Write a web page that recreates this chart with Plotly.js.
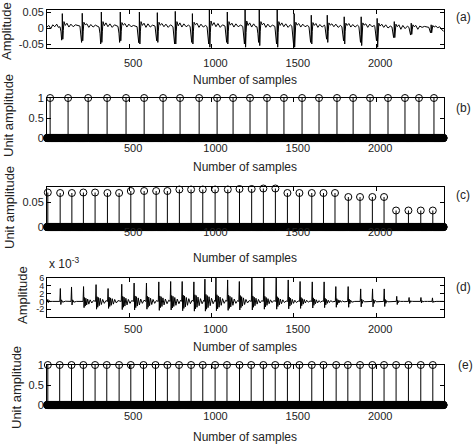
<!DOCTYPE html>
<html><head><meta charset="utf-8">
<script src="https://cdn.plot.ly/plotly-3.0.1.min.js"></script>
<style>html,body{margin:0;padding:0;background:#fff}#chart{width:474px;height:444px}</style>
</head><body><div id="chart"></div>
<script>
// ---------------- data ----------------
const nSamples = 2410;
const sampleTicks = [500, 1000, 1500, 2000];
const sampleTickLabels = ['500', '1000', '1500', '2000'];

// (a) ECG signal: sample index / amplitude
const ecgX = [
  1,12,24,36,48,60,70,
  80,86,90,93,94,97,100,104,112,122,134,146,160,174,
  201,207,211,214,215,218,221,225,233,243,255,267,281,295,
  317,323,327,330,331,334,337,341,349,359,371,383,397,411,
  432,438,442,445,446,449,452,456,464,474,486,498,512,526,
  548,554,558,561,562,565,568,572,580,590,602,614,628,642,
  657,663,667,670,671,674,677,681,689,699,711,723,737,751,
  766,772,776,779,780,783,786,790,798,808,820,832,846,860,
  870,876,880,883,884,887,890,894,902,912,924,936,950,964,
  973,979,983,986,987,990,993,997,1005,1015,1027,1039,1053,1067,
  1082,1088,1092,1095,1096,1099,1102,1106,1114,1124,1136,1148,1162,1176,
  1190,1196,1200,1203,1204,1207,1210,1214,1222,1232,1244,1256,1268,
  1276,1282,1286,1289,1290,1293,1296,1300,1308,1318,1330,1342,1356,1370,
  1385,1391,1395,1398,1399,1402,1405,1409,1417,1427,1439,1451,1465,1479,
  1488,1494,1498,1501,1502,1505,1508,1512,1520,1530,1542,1554,1568,1582,
  1592,1598,1602,1605,1606,1609,1612,1616,1624,1634,1646,1658,1672,1686,
  1689,1695,1699,1702,1703,1706,1709,1713,1721,1731,1743,1755,1769,1783,
  1792,1798,1802,1805,1806,1809,1812,1816,1824,1834,1846,1858,1872,1886,
  1895,1901,1905,1908,1909,1912,1915,1919,1927,1937,1949,1961,1975,1989,
  1992,1998,2002,2005,2006,2009,2012,2016,2024,2034,2046,2058,2072,2086,
  2096,2102,2106,2109,2110,2113,2116,2120,2128,2138,2150,2162,2176,2190,
  2199,2205,2209,2212,2213,2216,2219,2223,2231,2241,2253,2265,2279,2293,
  2320,2326,2330,2333,2334,2337,2340,2344,2352,2362,2374,2386,2400,2410
];
const ecgY = [
  0.003,0.008,-0.002,0.01,0.004,0.012,0.002,
  0.004,-0.012,-0.038,-0.02,0.045,-0.035,-0.008,0.02,0.008,0.015,0.003,0.012,0.004,0.01,
  0.006,-0.015,-0.045,-0.02,0.046,-0.04,-0.01,0.018,0.01,0.013,0.002,0.011,0.003,0.009,
  0.003,-0.018,-0.05,-0.025,0.05,-0.045,-0.012,0.02,0.007,0.016,0.004,0.013,0.002,0.01,
  0.005,-0.016,-0.045,-0.02,0.05,-0.04,-0.01,0.017,0.009,0.014,0.003,0.012,0.004,0.008,
  0.004,-0.017,-0.046,-0.022,0.05,-0.05,-0.012,0.02,0.008,0.015,0.002,0.013,0.003,0.009,
  0.006,-0.014,-0.04,-0.018,0.048,-0.045,-0.01,0.018,0.009,0.014,0.004,0.012,0.002,0.01,
  0.004,-0.02,-0.05,-0.025,0.052,-0.05,-0.012,0.02,0.007,0.016,0.003,0.013,0.004,0.009,
  0.005,-0.018,-0.045,-0.02,0.045,-0.05,-0.01,0.018,0.01,0.015,0.002,0.012,0.003,0.008,
  0.004,-0.02,-0.05,-0.025,0.058,-0.06,-0.015,0.022,0.008,0.017,0.004,0.014,0.002,0.01,
  0.006,-0.016,-0.045,-0.02,0.05,-0.05,-0.012,0.02,0.009,0.015,0.003,0.013,0.004,0.009,
  0.005,-0.02,-0.05,-0.025,0.058,-0.06,-0.014,0.022,0.008,0.016,0.003,0.013,0.004,
  0.004,-0.018,-0.045,-0.02,0.058,-0.055,-0.012,0.02,0.01,0.015,0.002,0.012,0.003,0.009,
  0.005,-0.02,-0.05,-0.025,0.058,-0.06,-0.015,0.02,0.008,0.016,0.004,0.013,0.002,0.01,
  0.006,-0.02,-0.05,-0.022,0.045,-0.06,-0.012,0.018,0.009,0.014,0.003,0.012,0.004,0.008,
  0.004,-0.017,-0.045,-0.02,0.04,-0.05,-0.01,0.017,0.008,0.014,0.002,0.011,0.003,0.009,
  0.005,-0.014,-0.035,-0.018,0.04,-0.045,-0.01,0.016,0.009,0.013,0.004,0.012,0.002,0.008,
  0.004,-0.016,-0.04,-0.02,0.035,-0.05,-0.01,0.015,0.008,0.014,0.003,0.011,0.003,0.009,
  0.005,-0.018,-0.045,-0.02,0.035,-0.055,-0.012,0.016,0.009,0.013,0.002,0.012,0.004,0.008,
  0.004,-0.015,-0.04,-0.018,0.03,-0.06,-0.012,0.015,0.006,0.012,0.002,0.01,0.0,0.006,
  0.003,-0.012,-0.03,-0.01,0.02,-0.03,-0.008,0.012,0.004,0.01,-0.004,0.008,-0.002,0.006,
  0.002,-0.01,-0.022,-0.008,0.015,-0.02,-0.006,0.01,0.004,0.008,-0.004,0.006,0.002,0.005,
  0.002,-0.008,-0.015,-0.005,0.01,-0.015,-0.004,0.008,0.003,0.006,0.001,0.004,-0.006,-0.01
];

// (b) detected peaks (unit amplitude)
const bPeakX = [20,129,251,366,481,591,706,809,925,1034,1131,1234,1337,1440,1550,1653,1762,1860,1963,2072,2175,2260,2351];
const bPeakY = [1,1,1,1,1,1,1,1,1,1,1,1,1,1,1,1,1,1,1,1,1,1,1];

// (c) peaks with amplitude
const cPeakX = [6,81,152,222,293,368,439,510,591,664,732,805,876,947,1022,1099,1170,1244,1315,1388,1461,1534,1609,1680,1750,1831,1902,1977,2048,2121,2196,2271,2344];
const cPeakY = [0.069,0.068,0.068,0.069,0.069,0.068,0.068,0.072,0.072,0.072,0.072,0.075,0.075,0.075,0.075,0.075,0.076,0.076,0.077,0.077,0.068,0.068,0.068,0.068,0.068,0.06,0.06,0.06,0.06,0.033,0.033,0.033,0.033];

// (d) detail signal (x 10^-3)
const dX = [
  1,3,6,9,13,20,36,
  79,82,85,89,96,112,
  147,150,153,157,164,180,
  220,223,226,229,233,237,242,248,255,263,273,283,
  296,299,302,305,309,313,318,324,331,339,349,359,
  369,372,375,378,382,386,391,397,404,412,422,432,
  452,455,458,461,465,469,474,480,487,495,505,515,
  527,530,533,536,540,544,549,555,562,570,580,590,
  602,605,608,611,615,619,624,630,637,645,655,665,
  677,680,683,686,690,694,699,705,712,720,730,740,
  749,752,755,758,762,766,771,777,784,792,802,812,
  819,822,825,828,832,836,841,847,854,862,872,882,
  890,893,896,899,903,907,912,918,925,933,943,953,
  957,960,963,966,970,974,979,985,992,1000,1010,1020,
  1024,1027,1030,1033,1037,1041,1046,1052,1059,1067,1077,1087,
  1095,1098,1101,1104,1108,1112,1117,1123,1130,1138,1148,1158,
  1166,1169,1172,1175,1179,1183,1188,1194,1201,1209,1219,1229,
  1242,1245,1248,1251,1255,1259,1264,1270,1277,1285,1295,1305,
  1315,1318,1321,1324,1328,1332,1337,1343,1350,1358,1368,1378,
  1390,1393,1396,1399,1403,1407,1412,1418,1425,1433,1443,1453,
  1463,1466,1469,1472,1476,1480,1485,1491,1498,1506,1516,1526,
  1535,1538,1541,1544,1548,1552,1557,1563,1570,1578,1588,1598,
  1609,1612,1615,1618,1622,1626,1631,1637,1644,1652,1662,1672,
  1681,1684,1687,1690,1694,1698,1703,1709,1716,1724,1734,1744,
  1752,1755,1758,1761,1765,1769,1774,1780,1787,1795,1805,1815,
  1827,1830,1833,1836,1840,1845,1852,1870,
  1903,1906,1909,1912,1916,1921,1928,1946,
  1975,1978,1981,1984,1988,1993,2000,2018,
  2046,2049,2052,2055,2059,2064,2071,2089,
  2122,2125,2128,2131,2135,2140,2147,2165,
  2197,2200,2203,2206,2210,2215,2222,2240,
  2269,2272,2275,2278,2282,2287,2294,2312,
  2339,2342,2345,2348,2352,2357,2364,2382,2410
];
const dY = [
  0,0,0.5,-0.3,0.2,0,0,
  0,3.3,-0.8,0.4,-0.2,0.05,
  0,3.7,-0.9,0.4,-0.2,0,
  0,3.8,-1.6,1.0,-1.2,0.8,-0.9,0.6,-0.7,0.4,-0.4,0.2,
  0,4.3,-2.0,1.2,-1.5,1.0,-1.1,0.8,-0.8,0.5,-0.5,0.2,
  0,3.3,-1.8,1.1,-1.3,0.9,-1.0,0.7,-0.7,0.5,-0.4,0.2,
  0,4.4,-2.1,1.3,-1.5,1.1,-1.2,0.8,-0.9,0.5,-0.5,0.2,
  0,4.7,-2.2,1.4,-1.6,1.2,-1.2,0.9,-0.9,0.6,-0.5,0.3,
  0,4.7,-2.0,1.3,-1.5,1.1,-1.1,0.8,-0.8,0.5,-0.5,0.2,
  0,5.0,-2.3,1.4,-1.6,1.2,-1.3,0.9,-0.9,0.6,-0.6,0.3,
  0,5.1,-2.2,1.5,-1.7,1.3,-1.3,1.0,-1.0,0.6,-0.6,0.3,
  0,5.1,-2.4,1.6,-1.8,1.4,-1.4,1.0,-1.0,0.7,-0.6,0.3,
  0,5.0,-2.5,1.7,-1.9,1.5,-1.5,1.1,-1.1,0.7,-0.6,0.3,
  0,5.7,-2.5,1.8,-2.0,1.5,-1.6,1.2,-1.1,0.8,-0.6,0.3,
  0,6.0,-2.4,1.7,-1.9,1.4,-1.5,1.1,-1.0,0.7,-0.5,0.3,
  0,5.5,-2.3,1.6,-1.8,1.3,-1.4,1.0,-1.0,0.6,-0.5,0.2,
  0,5.1,-2.2,1.5,-1.6,1.2,-1.2,0.9,-0.8,0.5,-0.4,0.2,
  0,6.1,-2.2,1.4,-1.5,1.1,-1.1,0.8,-0.7,0.5,-0.4,0.2,
  0,6.1,-2.0,1.3,-1.4,1.0,-1.0,0.7,-0.6,0.4,-0.3,0.2,
  0,6.1,-2.0,1.2,-1.3,0.9,-0.9,0.6,-0.6,0.4,-0.3,0.1,
  0,5.5,-1.9,1.1,-1.2,0.8,-0.8,0.5,-0.5,0.3,-0.3,0.1,
  0,5.1,-1.8,1.0,-1.1,0.7,-0.7,0.5,-0.4,0.3,-0.2,0.1,
  0,5.0,-1.7,0.9,-1.0,0.6,-0.6,0.4,-0.4,0.2,-0.2,0.1,
  0,5.0,-1.6,0.8,-0.9,0.5,-0.5,0.3,-0.3,0.2,-0.1,0,
  0,3.8,-1.5,0.7,-0.8,0.4,-0.4,0.3,-0.2,0.1,-0.1,0,
  0,3.8,-1.5,0.6,-0.6,0.3,-0.2,0,
  0,3.2,-1.4,0.6,-0.5,0.3,-0.1,0,
  0,3.2,-1.4,0.5,-0.5,0.3,-0.1,0,
  0,3.2,-1.3,0.5,-0.5,0.2,-0.1,0,
  0,1.3,-0.8,0.3,-0.3,0.1,0,0,
  0,1.0,-0.5,0.2,-0.2,0.1,0,0,
  0,1.0,-0.4,0.2,-0.1,0,0,0,
  0,0.9,-0.3,0.1,-0.1,0,0,0,0
];

// (e) peaks (unit amplitude)
const ePeakX = [6,78,150,222,293,364,439,510,587,660,732,803,876,947,1022,1094,1170,1241,1315,1387,1461,1534,1609,1680,1757,1828,1902,1977,2048,2121,2196,2271,2344];
const ePeakY = [1,1,1,1,1,1,1,1,1,1,1,1,1,1,1,1,1,1,1,1,1,1,1,1,1,1,1,1,1,1,1,1,1];

// ---------------- layout helpers ----------------
const W = 474, H = 444;
const px = v => v / W;
const py = v => 1 - v / H;
const FONT = 'Liberation Sans, Arial, sans-serif';
const TXT = '#222';

function stemTraces(sx, sy, xa, ya) {
  const lx = [], ly = [];
  sx.forEach((x, i) => { lx.push(x, x, null); ly.push(0, sy[i], null); });
  const peakSet = new Set(sx);
  const zx = [], zy = [];
  for (let s = 1; s <= nSamples; s++) if (!peakSet.has(s)) { zx.push(s); zy.push(0); }
  const mk = {symbol: 'circle-open', size: 7, color: '#000', line: {width: 1, color: '#000'}};
  return [
    {x: zx, y: zy, mode: 'markers', marker: mk, xaxis: xa, yaxis: ya, cliponaxis: false, hoverinfo: 'skip'},
    {x: lx, y: ly, mode: 'lines', line: {color: '#000', width: 1}, xaxis: xa, yaxis: ya, hoverinfo: 'skip'},
    {x: sx, y: sy, mode: 'markers', marker: mk, xaxis: xa, yaxis: ya, cliponaxis: false, hoverinfo: 'skip'}
  ];
}

const traces = [
  {x: ecgX, y: ecgY, mode: 'lines', line: {color: '#000', width: 1}, xaxis: 'x', yaxis: 'y', hoverinfo: 'skip'},
  ...stemTraces(bPeakX, bPeakY, 'x2', 'y2'),
  ...stemTraces(cPeakX, cPeakY, 'x3', 'y3'),
  {x: dX, y: dY, mode: 'lines', line: {color: '#000', width: 1}, xaxis: 'x4', yaxis: 'y4', hoverinfo: 'skip'},
  ...stemTraces(ePeakX, ePeakY, 'x5', 'y5')
];

const xDom = [px(47), px(444)];
function xAxis(anchor, standoff) {
  return {domain: xDom, anchor: anchor, range: [1, 2412], tickmode: 'array', tickvals: sampleTicks,
    ticktext: sampleTickLabels, ticks: 'inside', ticklen: 4, tickcolor: '#000', showline: true,
    mirror: 'allticks', linecolor: '#000', linewidth: 1, showgrid: false, zeroline: false,
    tickfont: {family: FONT, size: 11, color: TXT}, ticklabelshift: 4, ticklabelstandoff: standoff};
}
function yAxis(anchor, top, bottom, range, vals, text, fsize) {
  return {domain: [py(bottom), py(top)], anchor: anchor, range: range, tickmode: 'array', tickvals: vals,
    ticktext: text, ticks: 'inside', ticklen: 4, tickcolor: '#000', showline: true, mirror: 'allticks',
    linecolor: '#000', linewidth: 1, showgrid: false, zeroline: false,
    tickfont: {family: FONT, size: fsize || 11, color: TXT}};
}

const ann = [];
function addText(text, x, y, opts) {
  ann.push(Object.assign({text: text, x: px(x), y: py(y), xref: 'paper', yref: 'paper', showarrow: false,
    xanchor: 'center', yanchor: 'middle', font: {family: FONT, size: 12, color: TXT}}, opts || {}));
}
const f13 = {family: FONT, size: 13, color: TXT};
[80, 167, 258, 347, 437].forEach(y => addText('Number of samples', 245.5, y));
addText('Amplitude', 7, 31, {textangle: -90, font: f13});
addText('Unit amplitude', 8, 116, {textangle: -90, font: f13});
addText('Unit amplitude', 9, 208, {textangle: -90, font: f13});
addText('Amplitude', 22, 295, {textangle: -90, font: f13});
addText('Unit amplitude', 16, 388, {textangle: -90, font: f13});
addText('(a)', 463, 17);
addText('(b)', 463, 108);
addText('(c)', 463, 195);
addText('(d)', 463, 287);
addText('(e)', 465, 365);
addText('x 10<sup>-3</sup>', 47, 263, {xanchor: 'left'});

const layout = {
  width: W, height: H, margin: {l: 0, r: 0, t: 0, b: 0}, showlegend: false,
  paper_bgcolor: '#fff', plot_bgcolor: '#fff', font: {family: FONT, color: TXT},
  xaxis: xAxis('y', 5),
  yaxis: yAxis('x', 10, 48, [-0.0625, 0.0563], [-0.05, 0, 0.05], ['-0.05', '0', '0.05']),
  xaxis2: xAxis('y2', 0),
  yaxis2: yAxis('x2', 98, 138, [0, 1], [0, 0.5, 1], ['0', '0.5', '1']),
  xaxis3: xAxis('y3', -5),
  yaxis3: yAxis('x3', 187, 227, [0, 0.08], [0, 0.05], ['0', '0.05']),
  xaxis4: xAxis('y4', 2),
  yaxis4: yAxis('x4', 278, 317, [-4, 6], [-2, 0, 2, 4, 6], ['-2', '0', '2', '4', '6'], 9),
  xaxis5: xAxis('y5', 1),
  yaxis5: yAxis('x5', 365, 405, [0, 1], [0, 0.5, 1], ['0', '0.5', '1']),
  annotations: ann
};

Plotly.newPlot('chart', traces, layout, {staticPlot: true, displayModeBar: false});
</script>
</body></html>
